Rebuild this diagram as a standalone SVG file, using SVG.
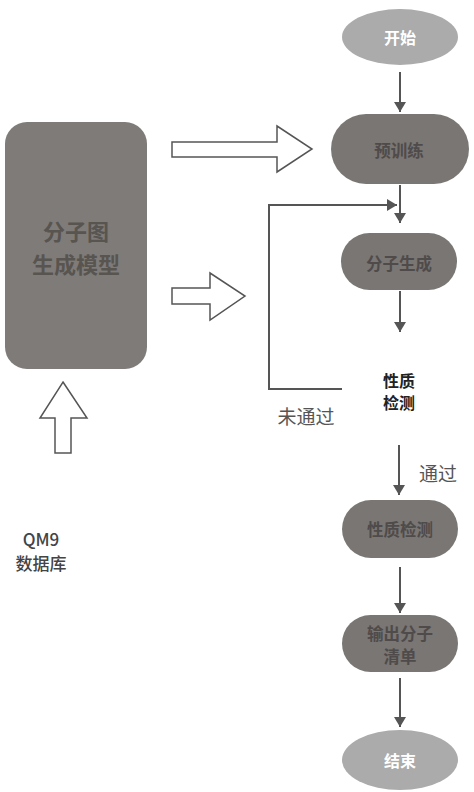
<svg xmlns="http://www.w3.org/2000/svg" width="474" height="792" viewBox="0 0 474 792">
<defs>
<marker id="ah" markerWidth="12" markerHeight="12" refX="10" refY="6" orient="auto" markerUnits="userSpaceOnUse">
<path d="M0,0 L10,6 L0,12 Z" fill="#555"/>
</marker>
<style>
text{font-family:"Noto Sans CJK SC","Noto Sans",sans-serif;text-anchor:middle;dominant-baseline:central}
.node{fill:#7a7674}
.term{fill:#ababab}
.nt{fill:#4f4b4a;font-size:16.5px;font-weight:bold}
.tt{fill:#fff;font-size:16px;font-weight:bold}
.ln{stroke:#555;stroke-width:2;fill:none}
.hollow{fill:#fff;stroke:#555;stroke-width:1.5}
.lab{fill:#555;font-size:19px}
.blk{fill:#222;font-size:16px;font-weight:bold}
</style>
</defs>
<g id="start"><ellipse class="term" cx="400" cy="37" rx="58" ry="28"/><text class="tt" x="400" y="37">开始</text></g>
<g id="pretrain"><rect class="node" x="331" y="114" width="138" height="70" rx="35"/><text class="nt" x="399" y="150">预训练</text></g>
<g id="gen"><rect class="node" x="341" y="233" width="116" height="57" rx="28.5"/><text class="nt" x="399" y="263">分子生成</text></g>
<g id="check1"><text class="blk" x="399" y="380">性质</text><text class="blk" x="399" y="402">检测</text></g>
<g id="check2"><rect class="node" x="342" y="500" width="116" height="58" rx="29"/><text class="nt" x="400" y="529">性质检测</text></g>
<g id="output"><rect class="node" x="342" y="615" width="116" height="57" rx="28.5"/><text class="nt" x="400" y="633">输出分子</text><text class="nt" x="400" y="656">清单</text></g>
<g id="end"><ellipse class="term" cx="400" cy="760" rx="58" ry="30"/><text class="tt" x="400" y="760">结束</text></g>
<g id="model"><rect x="5" y="122" width="142" height="247" rx="22" fill="#7f7b79"/><text x="76" y="230" fill="#58544f" font-size="22" font-weight="bold">分子图</text><text x="76" y="263" fill="#58544f" font-size="22" font-weight="bold">生成模型</text></g>
<g id="qm9"><text x="41" y="538" fill="#444" font-size="17" font-weight="500">QM9</text><text x="41" y="562" fill="#444" font-size="17" font-weight="500">数据库</text></g>
<g id="connectors">
<line class="ln" x1="400" y1="72" x2="400" y2="112" marker-end="url(#ah)"/>
<line class="ln" x1="400" y1="185" x2="400" y2="223" marker-end="url(#ah)"/>
<polyline class="ln" points="342,389 269,389 269,205 397,205" marker-end="url(#ah)"/>
<line class="ln" x1="400" y1="291" x2="400" y2="332" marker-end="url(#ah)"/>
<line class="ln" x1="399" y1="445" x2="399" y2="495" marker-end="url(#ah)"/>
<line class="ln" x1="400" y1="567" x2="400" y2="613" marker-end="url(#ah)"/>
<line class="ln" x1="400" y1="678" x2="400" y2="727" marker-end="url(#ah)"/>
<text class="lab" x="306" y="415">未通过</text>
<text class="lab" x="438" y="472">通过</text>
<polygon class="hollow" points="172,142 277,142 277,126 312,149 277,172 277,157 172,157"/>
<polygon class="hollow" points="172,288 210,288 210,273 245,296 210,320 210,304 172,304"/>
<polygon class="hollow" points="63,382 87,418 71,418 71,453 55,453 55,418 40,418"/>
</g>
</svg>
